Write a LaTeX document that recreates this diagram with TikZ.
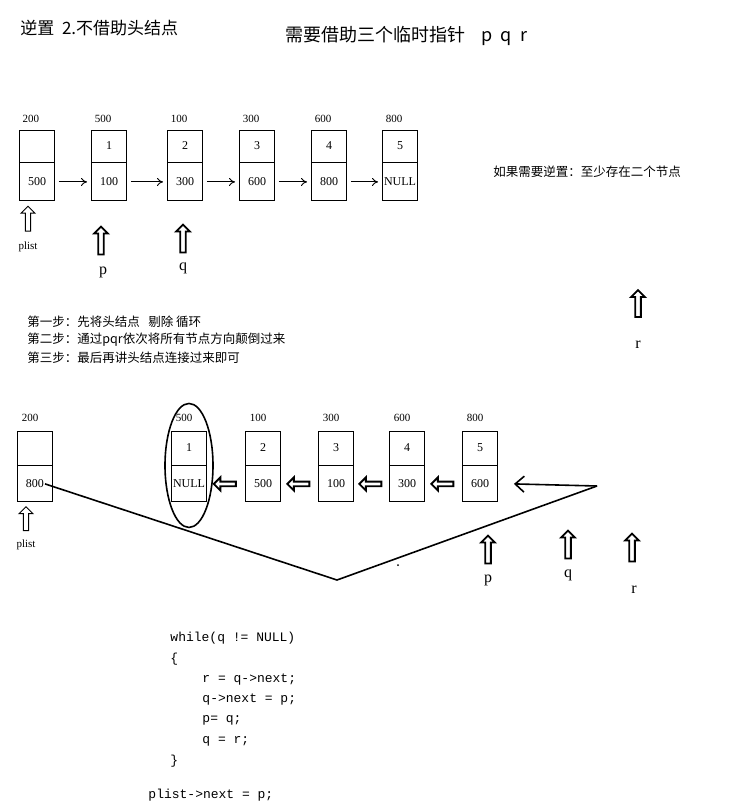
\documentclass[tikz,border=0pt]{standalone}
\usepackage{fontspec}
\setmainfont{Liberation Serif}
\newfontfamily\cjk{Noto Sans CJK SC}
\newfontfamily\codef{Liberation Mono}
\usetikzlibrary{shapes.arrows,arrows.meta,calc}
\begin{document}
\begin{tikzpicture}[x=1pt,y=-1pt,line width=0.9pt,
  cell/.style={draw,minimum width=35pt,inner sep=0pt,font=\fontsize{12}{12}\selectfont},
  addr/.style={font=\fontsize{11}{11}\selectfont},
  harrow/.style={draw,line width=1.8pt,single arrow,single arrow head extend=3.5pt,minimum width=14pt,inner sep=1.5pt,minimum height=#1},
  lbl/.style={font=\fontsize{16}{16}\selectfont},
  code/.style={font=\codef\fontsize{13}{13}\selectfont,anchor=west,inner sep=0pt},
  cn/.style={font=\cjk\fontsize{12.5}{12.5}\selectfont,anchor=west,inner sep=0pt}]
\useasboundingbox (0,0) rectangle (735,807);
\node[font=\cjk\fontsize{17}{17}\selectfont,anchor=west,inner sep=0pt] (t1) at (20,28) {逆置\ \ 2.不借助头结点};
\node[font=\cjk\fontsize{18}{18}\selectfont,anchor=west,inner sep=0pt] (t2) at (285,36) {需要借助三个临时指针\ \ \ \ p\ \ q\ \ r};
\node[cn] (note) at (493,172) {如果需要逆置：至少存在二个节点};
% top list
\foreach \n/\x/\a/\v/\d in {a/37/200//500,b/109/500/1/100,c/185/100/2/300,d/257/300/3/600,e/329/600/4/800,f/400/800/5/NULL}{
  \node[cell,minimum height=32pt] (\n-t) at (\x,146) {\v};
  \node[cell,minimum height=38pt,anchor=north] (\n-b) at (\n-t.south) {\d};
  \node[addr] (\n-l) at (\x-6,119) {\a};
}
\foreach \u/\w in {a/b,b/c,c/d,d/e,e/f}{\draw[-{To[length=6pt,width=8pt]}] ([xshift=4pt]\u-b.east) -- ([xshift=-4pt]\w-b.west);}
\node[harrow=25pt,line width=1pt,rotate=90] (pl1) at (28,220) {};
\node[addr] (pl1l) at (28,247) {plist};
\node[harrow=28pt,rotate=90] (p1) at (101,242) {};
\node[lbl] (p1l) at (103,272) {p};
\node[harrow=28pt,rotate=90] (q1) at (183,240) {};
\node[lbl] (q1l) at (183,268) {q};
\node[harrow=27pt,rotate=90] (r1) at (638,305) {};
\node[lbl] (r1l) at (638,345) {r};
% steps
\node[cn] (s1) at (27,322) {第一步：先将头结点\ \ \ 剔除\ 循环};
\node[cn] (s2) at (27,340) {第二步：通过pqr依次将所有节点方向颠倒过来};
\node[cn] (s3) at (27,358) {第三步：最后再讲头结点连接过来即可};
% bottom list
\foreach \n/\x/\a/\v/\d in {A/35/200//800,B/189/500/1/NULL,C/263/100/2/500,D/336/300/3/100,E/407/600/4/300,F/480/800/5/600}{
  \node[cell,minimum height=34pt] (\n-t) at (\x,448) {\v};
  \node[cell,minimum height=36pt,anchor=north] (\n-b) at (\n-t.south) {\d};
  \node[addr] (\n-l) at (\x-5,418) {\a};
}
\draw[line width=1.6pt] (B-t.south) ellipse (24pt and 62pt);
\foreach \u/\w in {C/B,D/C,E/D,F/E}{\node[harrow=22pt,minimum width=13pt,rotate=180,inner sep=1pt] (h\u) at ($(\u-b.west)!0.5!(\w-b.east)$) {};}
\coordinate (v1) at (337,580);
\coordinate (v2) at (597,486);
\coordinate (dot) at (398,565);
\fill (dot) circle (1pt);
\draw[line width=1.6pt] ([xshift=10pt]A-b.center) -- (v1) -- (v2);
\draw[line width=1.6pt,-{Straight Barb[length=9pt,width=16pt]}] (v2) -- ([xshift=16pt]F-b.east);
\node[harrow=24pt,line width=1pt,rotate=90] (pl2) at (26,520) {};
\node[addr] (pl2l) at (26,545) {plist};
\node[harrow=28pt,rotate=90] (p2) at (488,551) {};
\node[lbl] (p2l) at (488,580) {p};
\node[harrow=28pt,rotate=90] (q2) at (568,546) {};
\node[lbl] (q2l) at (568,575) {q};
\node[harrow=28pt,rotate=90] (r2) at (632,549) {};
\node[lbl] (r2l) at (634,590) {r};
% code
\node[code] (c1) at (170,638) {while(q != NULL)};
\node[code] (c2) at (170,659) {\{};
\node[code] (c3) at (202,680) {r = q->next;};
\node[code] (c4) at (202,700) {q->next = p;};
\node[code] (c5) at (202,720) {p= q;};
\node[code] (c6) at (202,741) {q = r;};
\node[code] (c7) at (170,761) {\}};
\node[code] (c8) at (148,795) {plist->next = p;};
\end{tikzpicture}
\end{document}
